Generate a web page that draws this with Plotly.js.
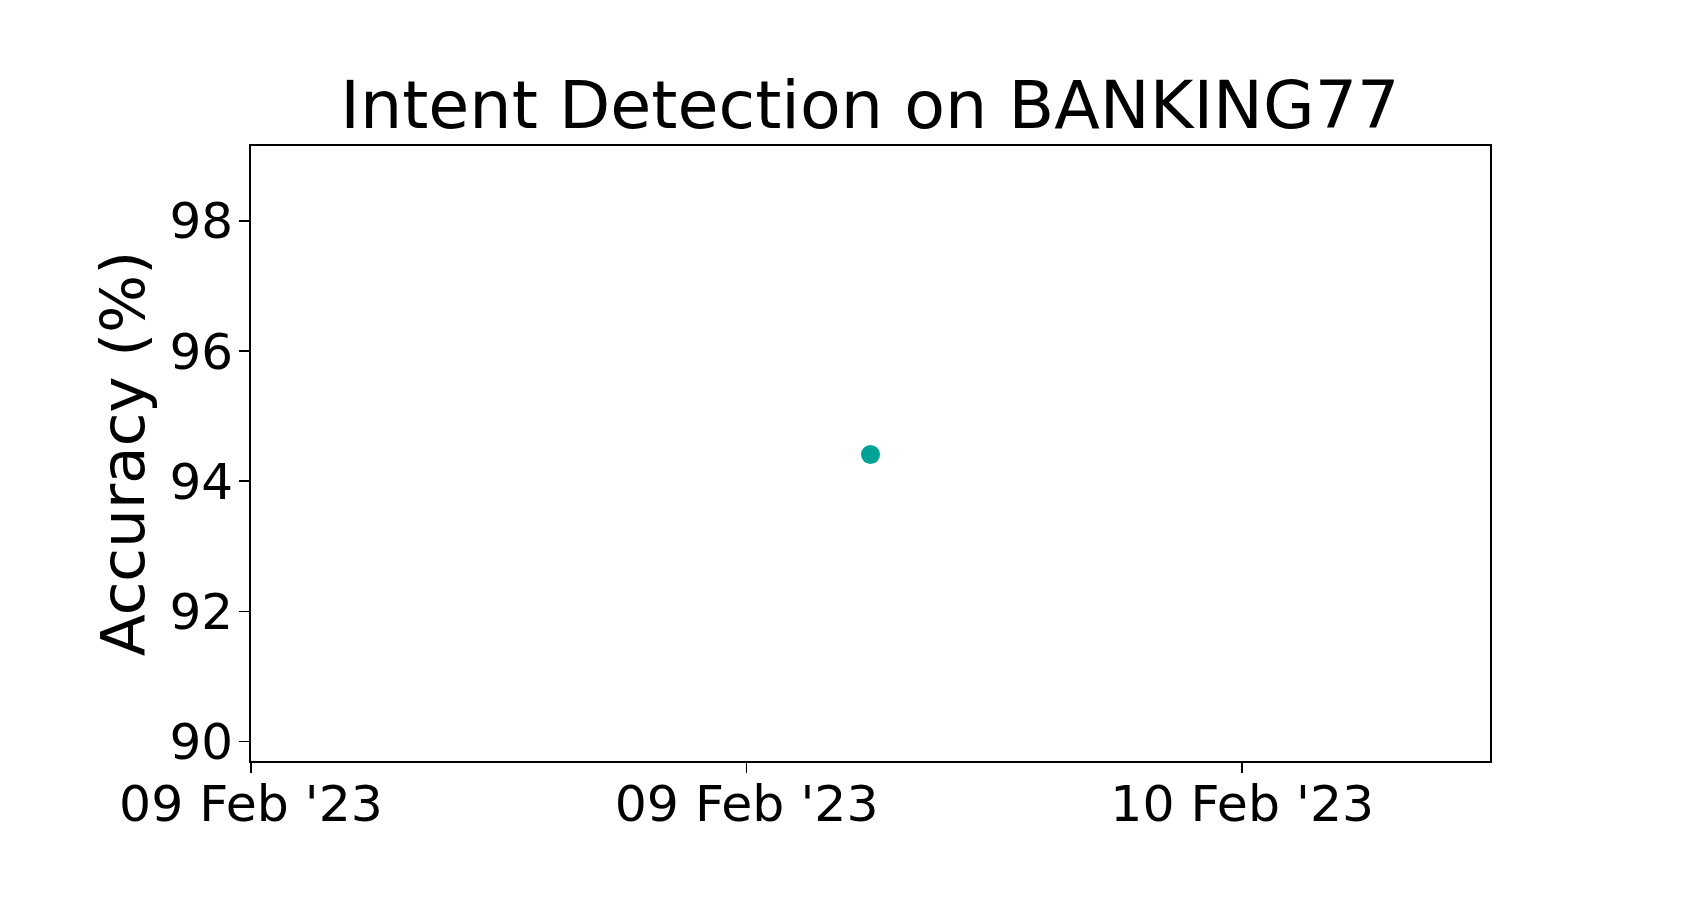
<!DOCTYPE html>
<html>
<head>
<meta charset="utf-8">
<script src="https://cdn.plot.ly/plotly-3.0.1.min.js"></script>
<style>html,body{margin:0;padding:0;background:#fff;}#chart{width:1700px;height:900px;}</style>
</head>
<body>
<div id="chart"></div>
<script>
const dates = ['2023-02-09 15:00'];
const accuracy = [94.41];
const tickDates = ['2023-02-09 00:00', '2023-02-09 12:00', '2023-02-10 00:00'];
const tickLabels = ["09 Feb '23", "09 Feb '23", "10 Feb '23"];
const xRange = ['2023-02-09 00:00', '2023-02-10 06:00'];
const yRange = [89.7, 99.15];
const yTicks = [90, 92, 94, 96, 98];

const font = 'DejaVu Sans, sans-serif';
const trace = {
  x: dates, y: accuracy, type: 'scatter', mode: 'markers',
  marker: {color: '#00a295', size: 19}, hoverinfo: 'skip'
};
const layout = {
  width: 1700, height: 900,
  paper_bgcolor: '#fff', plot_bgcolor: '#fff',
  margin: {l: 251, r: 210, t: 146, b: 139, pad: 0},
  showlegend: false,
  title: {text: 'Intent Detection on BANKING77', font: {family: font, size: 66.7, color: '#000'},
          x: 0.5117, xanchor: 'center', y: 1 - 128/900, yanchor: 'bottom', yref: 'container'},
  xaxis: {
    type: 'date', range: xRange, tickmode: 'array', tickvals: tickDates, ticktext: tickLabels,
    showgrid: false, zeroline: false, showline: true, linecolor: '#000', linewidth: 2, mirror: true,
    ticks: 'outside', ticklen: 10, tickwidth: 1.5, tickcolor: '#000', ticklabelstandoff: -13,
    tickfont: {family: font, size: 50.5, color: '#000'}
  },
  yaxis: {
    range: yRange, tickmode: 'array', tickvals: yTicks, ticktext: yTicks.map(String),
    showgrid: false, zeroline: false, showline: true, linecolor: '#000', linewidth: 2, mirror: true,
    ticks: 'outside', ticklen: 10, tickwidth: 1.5, tickcolor: '#000', ticklabelstandoff: -4,
    tickfont: {family: font, size: 50, color: '#000'},
    title: {text: 'Accuracy (%)', font: {family: font, size: 61.3, color: '#000'}, standoff: 5}
  }
};
Plotly.newPlot('chart', [trace], layout, {displayModeBar: false, staticPlot: true});
</script>
</body>
</html>
